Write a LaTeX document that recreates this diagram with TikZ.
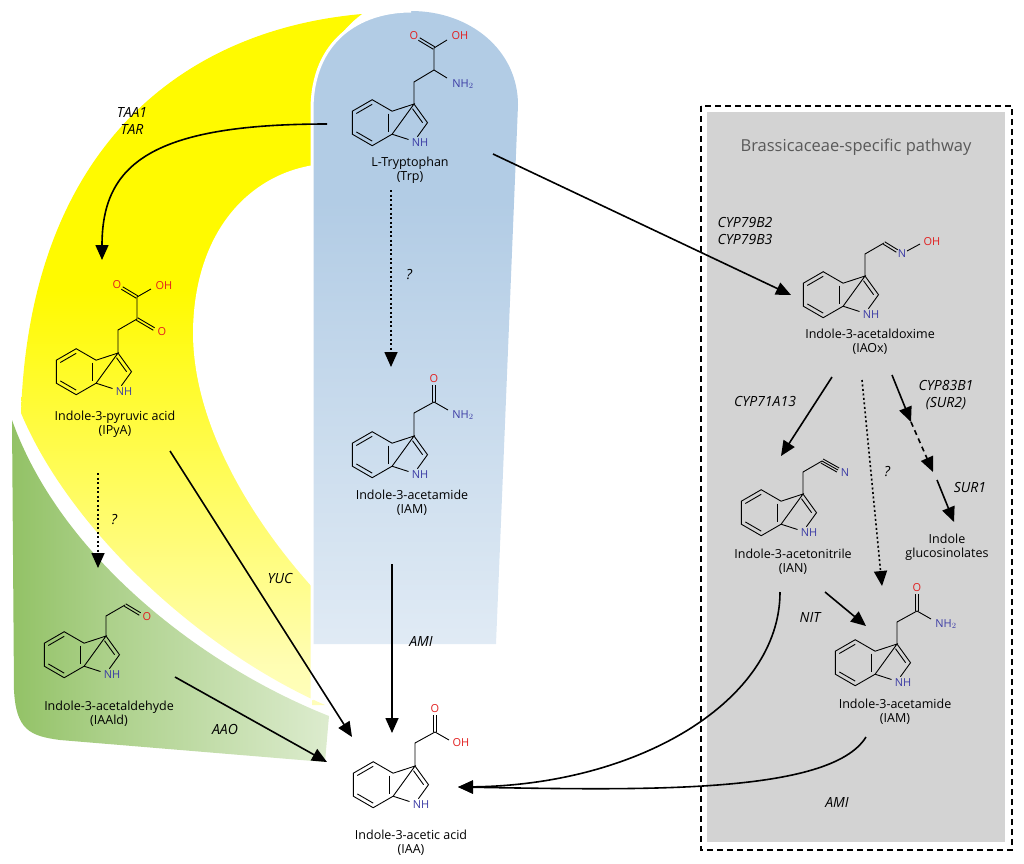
\documentclass[tikz,border=0pt]{standalone}
\usepackage{fontspec}
\setmainfont{Open Sans}
\usetikzlibrary{arrows.meta,calc}
\definecolor{molred}{RGB}{225,30,30}
\definecolor{molblue}{RGB}{60,60,165}
\definecolor{bl}{RGB}{178,204,229}
\definecolor{grn}{RGB}{104,170,42}
\definecolor{yel}{RGB}{255,250,0}
\definecolor{boxg}{RGB}{211,211,211}
\pgfdeclareverticalshading{yelsh}{100bp}{color(0bp)=(white); color(28bp)=(white!70!yel); color(55bp)=(yel); color(100bp)=(yel)}
\pgfdeclarehorizontalshading{grnsh}{100bp}{color(0bp)=(grn); color(40bp)=(grn!55!white); color(100bp)=(white)}
\pgfdeclareverticalshading{blsh}{100bp}{color(0bp)=(white); color(25bp)=(bl!40!white); color(60bp)=(bl); color(100bp)=(bl)}
\newcommand\dbond[2]{\draw ($#1!1.4pt!90:#2$) -- ($#2!1.4pt!-90:#1$); \draw ($#1!1.4pt!-90:#2$) -- ($#2!1.4pt!90:#1$);}
\tikzset{
 bond/.style={line width=0.9pt},
 lab/.style={font=\fontsize{12.5}{14}\selectfont, align=center, inner sep=0pt},
 enz/.style={font=\fontsize{14}{17}\selectfont\itshape, align=center, inner sep=0pt},
 atm/.style={font=\fontsize{11}{12}\selectfont, inner sep=0pt},
 arr/.style={line width=1.6pt, -{Triangle[length=15pt,width=13pt]}},
 dotarr/.style={arr, dash pattern=on 2pt off 2.5pt},
 dasharr/.style={arr, dash pattern=on 5pt off 4pt},
 indole/.pic={
  \draw[bond] (0,0) -- (-21.9,7.2) -- (-41.8,-4.3) -- (-61.7,7.2) -- (-61.7,30.2) -- (-41.8,41.7) -- (-21.9,30.2) -- cycle;
  \draw[bond] (0,0) -- (13.5,18.7) -- (3.4,32.7);
  \draw[bond] (-21.9,30.2) -- (-5.5,35.5);
  \draw[bond] (-57.7,9.5) -- (-41.8,0.3);
  \draw[bond] (-25.9,9.5) -- (-25.9,27.9);
  \draw[bond] (-41.8,37.1) -- (-57.7,27.9);
  \draw[bond] (-1.5,4.7) -- (8.6,18.7);
  \node[atm, text=molblue] (-nh) at (6,38.5) {NH};
 }
}
\begin{document}
\begin{tikzpicture}[x=1pt,y=-1pt]
\useasboundingbox (0,0) rectangle (1024,863);
% backgrounds
\path[shading=yelsh] (362,14) .. controls (180,30) and (30,150) .. (21,413) .. controls (70,530) and (200,650) .. (325,705) -- (312,705) -- (312,110) .. controls (318,60) and (340,30) .. (362,14) -- cycle;
\fill[white] (314,165) .. controls (250,175) and (195,230) .. (193,330) .. controls (192,430) and (260,530) .. (315,590) -- cycle;
\path[shading=grnsh] (12,420) -- (14,690) .. controls (16,730) and (30,736) .. (60,740) -- (325,762) -- (329,716) .. controls (200,665) and (60,555) .. (12,420) -- cycle;
\path[shading=blsh] (312,644) -- (312,110) .. controls (312,40) and (360,11) .. (411,11) .. controls (470,11) and (518,50) .. (518,105) -- (496,644) -- cycle;
\draw[white, line width=3pt] (312,700) -- (312,110) .. controls (312,40) and (360,11) .. (411,11);
\fill[boxg] (707,112) rectangle (1005,842);
\draw[line width=1.5pt, dash pattern=on 6pt off 4pt] (701,106) rectangle (1012,850);
\node[lab, text=black!65, font=\fontsize{16.5}{18}\selectfont] (title) at (856,147) {Brassicaceae-specific pathway};

% molecules
\begin{scope}[bond]
% Trp
\pic (trp) at (414,104) {indole};
\draw (414,104) -- (414,82) -- (434,70) -- (434,48) -- (447,40);
\draw (434,70) -- (447,78);
\dbond{(434,48)}{(419,39)}
\node[atm,text=molred] (trpo) at (414,36) {O};
\node[atm,text=molred] (trpoh) at (460,36) {OH};
\node[atm,text=molblue] (trpn) at (463,84) {NH$_2$};
% IPyA
\pic (ipya) at (118,353) {indole};
\draw (118,353) -- (118,330) -- (137,319) -- (137,297) -- (151,289);
\dbond{(137,319)}{(154,329)}
\dbond{(137,297)}{(122,288)}
\node[atm,text=molred] (ipo1) at (162,332) {O};
\node[atm,text=molred] (ipo2) at (117,285) {O};
\node[atm,text=molred] (ipoh) at (164,286) {OH};
% IAM middle
\pic (iam) at (414,436) {indole};
\draw (414,436) -- (414,413) -- (434,402) -- (448,410);
\dbond{(434,402)}{(434,385)}
\node[atm,text=molred] (iamo) at (434,379) {O};
\node[atm,text=molblue] (iamn) at (463,415) {NH$_2$};
% IAA
\pic (iaa) at (415,766) {indole};
\draw (415,766) -- (415,743) -- (435,732) -- (449,740);
\dbond{(435,732)}{(435,715)}
\node[atm,text=molred] (iaao) at (435,709) {O};
\node[atm,text=molred] (iaaoh) at (461,743) {OH};
% IAAld
\pic (iaald) at (106,636) {indole};
\draw (106,636) -- (106,616) -- (125,605);
\dbond{(125,605)}{(140,614)}
\node[atm,text=molred] (iaaldo) at (147,617) {O};
% IAOx
\pic (iaox) at (865,276) {indole};
\draw (865,276) -- (865,254) -- (884,243);
\dbond{(884,243)}{(897,251)}
\draw (907,251) -- (920,244);
\node[atm,text=molblue] (iaoxn) at (902,254) {N};
\node[atm,text=molred] (iaoxoh) at (932,242) {OH};
% IAN
\pic (ian) at (803,494) {indole};
\draw (803,494) -- (803,472) -- (822,461) -- (838,470);
\draw ($(822,461)!2.3pt!90:(838,470)$) -- ($(838,470)!2.3pt!-90:(822,461)$);
\draw ($(822,461)!2.3pt!-90:(838,470)$) -- ($(838,470)!2.3pt!90:(822,461)$);
\node[atm,text=molblue] (iann) at (845,473) {N};
% IAM right
\pic (iam2) at (897,644) {indole};
\draw (897,644) -- (897,622) -- (917,611) -- (931,619);
\dbond{(917,611)}{(917,594)}
\node[atm,text=molred] (iam2o) at (917,588) {O};
\node[atm,text=molblue] (iam2n) at (946,624) {NH$_2$};
\end{scope}

% names
\node[lab] (ltrp) at (410,170) {L-Tryptophan\\(Trp)};
\node[lab] (lipya) at (115,424) {Indole-3-pyruvic acid\\(IPyA)};
\node[lab] (liam) at (412,503) {Indole-3-acetamide\\(IAM)};
\node[lab] (liaald) at (109,714) {Indole-3-acetaldehyde\\(IAAld)};
\node[lab] (liaa) at (411,843) {Indole-3-acetic acid\\(IAA)};
\node[lab] (liaox) at (870,342) {Indole-3-acetaldoxime\\(IAOx)};
\node[lab] (lian) at (793,562) {Indole-3-acetonitrile\\(IAN)};
\node[lab] (liam2) at (895,712) {Indole-3-acetamide\\(IAM)};
\node[lab] (lglu) at (947,547) {Indole\\glucosinolates};

% enzymes
\node[enz] (e1) at (132,121) {TAA1\\TAR};
\node[enz] (q1) at (409,275) {?};
\node[enz] (q2) at (114,520) {?};
\node[enz] (yuc) at (280,578) {YUC};
\node[enz] (ami1) at (421,641) {AMI};
\node[enz] (aao) at (225,729) {AAO};
\node[enz] (cyp79) at (745,231) {CYP79B2\\CYP79B3};
\node[enz] (cyp71) at (765,401) {CYP71A13};
\node[enz] (cyp83) at (946,395) {CYP83B1\\(SUR2)};
\node[enz] (q3) at (887,472) {?};
\node[enz] (sur1) at (970,487) {SUR1};
\node[enz] (nit) at (810,617) {NIT};
\node[enz] (ami2) at (837,802) {AMI};

% connector end points
\coordinate (a1s) at (327,124); \coordinate (a1e) at (102,260);
\coordinate (a2s) at (391,190); \coordinate (a2e) at (391,367);
\coordinate (a3s) at (98,473);  \coordinate (a3e) at (98,568);
\coordinate (a4s) at (170,451); \coordinate (a4e) at (352,737);
\coordinate (a5s) at (175,677); \coordinate (a5e) at (327,762);
\coordinate (a6s) at (392,564); \coordinate (a6e) at (392,733);
\coordinate (a7s) at (493,154); \coordinate (a7e) at (791,295);
\coordinate (a8s) at (832,377); \coordinate (a8e) at (781,456);
\coordinate (a9s) at (862,380); \coordinate (a9e) at (882,586);
\coordinate (b1s) at (892,375); \coordinate (b1e) at (911,422);
\coordinate (b2e) at (933,472);
\coordinate (b3s) at (937,480); \coordinate (b3e) at (954,522);
\coordinate (b4s) at (825,592); \coordinate (b4e) at (866,626);
\coordinate (b5s) at (780,592); \coordinate (b6s) at (866,737);
\coordinate (iaain) at (458,787);

\draw[arr] (a1s) .. controls (150,124) and (102,165) .. (a1e);
\draw[dotarr] (a2s) -- (a2e);
\draw[dotarr] (a3s) -- (a3e);
\draw[arr] (a4s) -- (a4e);
\draw[arr] (a5s) -- (a5e);
\draw[arr] (a6s) -- (a6e);
\draw[arr] (a7s) -- (a7e);
\draw[arr] (a8s) -- (a8e);
\draw[dotarr] (a9s) -- (a9e);
\draw[arr] (b1s) -- (b1e);
\draw[dasharr] (b1e) -- (b2e);
\draw[arr] (b3s) -- (b3e);
\draw[arr] (b4s) -- (b4e);
\draw[arr] (b5s) .. controls (780,700) and (640,785) .. (iaain);
\draw[arr] (b6s) .. controls (830,795) and (640,790) .. (iaain);
\end{tikzpicture}
\end{document}
